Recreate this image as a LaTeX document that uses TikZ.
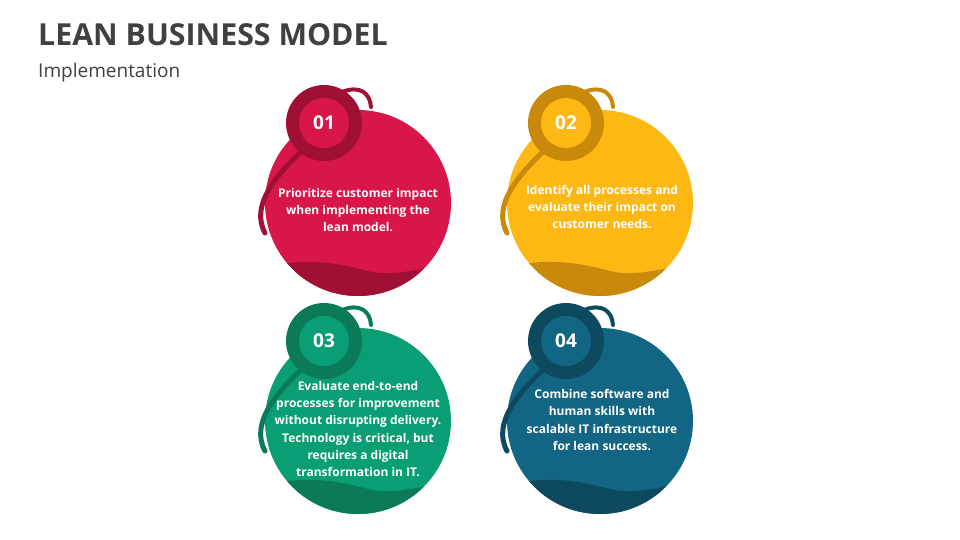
\documentclass[tikz,border=0pt]{standalone}
\usepackage{fontspec}
\setmainfont{Open Sans}
\definecolor{r1}{HTML}{D9164A}\definecolor{r2}{HTML}{A01035}
\definecolor{y1}{HTML}{FDB813}\definecolor{y2}{HTML}{C98A0C}
\definecolor{g1}{HTML}{0A9E74}\definecolor{g2}{HTML}{0B7A5A}
\definecolor{b1}{HTML}{136683}\definecolor{b2}{HTML}{0D4A60}
\definecolor{ttl}{HTML}{404040}
\newcommand{\bubble}[5]{% cx,cy,main,dark,num
\begin{scope}[shift={(#1,#2)}]
\fill[#3] (0,0) circle (93);
\begin{scope}
\clip (0,0) circle (93);
\fill[#4] (-100,68) .. controls (-60,52) and (-20,60) .. (10,68) .. controls (40,76) and (70,60) .. (100,64) -- (100,110) -- (-100,110) -- cycle;
\end{scope}
\draw[#4,line width=5pt,line cap=round] (-52,-56) .. controls (-82,-28) and (-108,2) .. (-93,30);
\draw[#4,line width=4pt,line cap=round] (-16,-111) .. controls (2,-118) and (12,-110) .. (13,-96);
\fill[#4] (-34,-80) circle (38);
\fill[#3] (-34,-80) circle (25);
\node[font=\bfseries\fontsize{19}{22}\selectfont,white] (n#5) at (-34,-80) {#5};
\end{scope}}
\begin{document}
\begin{tikzpicture}[x=1pt,y=-1pt]
\useasboundingbox (0,0) rectangle (960,540);
\node[anchor=west,inner sep=0pt,font=\bfseries\fontsize{30.3}{36}\selectfont,ttl] (title) at (38,35) {LEAN BUSINESS MODEL};
\node[anchor=west,inner sep=0pt,font=\fontsize{19}{22}\selectfont,ttl] (sub) at (38,73) {Implementation};
\bubble{358}{203}{r1}{r2}{01}
\bubble{600}{203}{y1}{y2}{02}
\bubble{358}{421}{g1}{g2}{03}
\bubble{600}{421}{b1}{b2}{04}
\tikzset{bt/.style={font=\bfseries\fontsize{12}{17.2}\selectfont,white,align=center}}
\node[bt] (a1) at (358,210) {Prioritize customer impact\\when implementing the\\lean model.};
\node[bt] (a2) at (602,207) {Identify all processes and\\evaluate their impact on\\customer needs.};
\node[bt] (a3) at (358,429) {Evaluate end-to-end\\processes for improvement\\without disrupting delivery.\\Technology is critical, but\\requires a digital\\transformation in IT.};
\node[bt] (a4) at (602,420) {Combine software and\\human skills with\\scalable IT infrastructure\\for lean success.};
\end{tikzpicture}
\end{document}
